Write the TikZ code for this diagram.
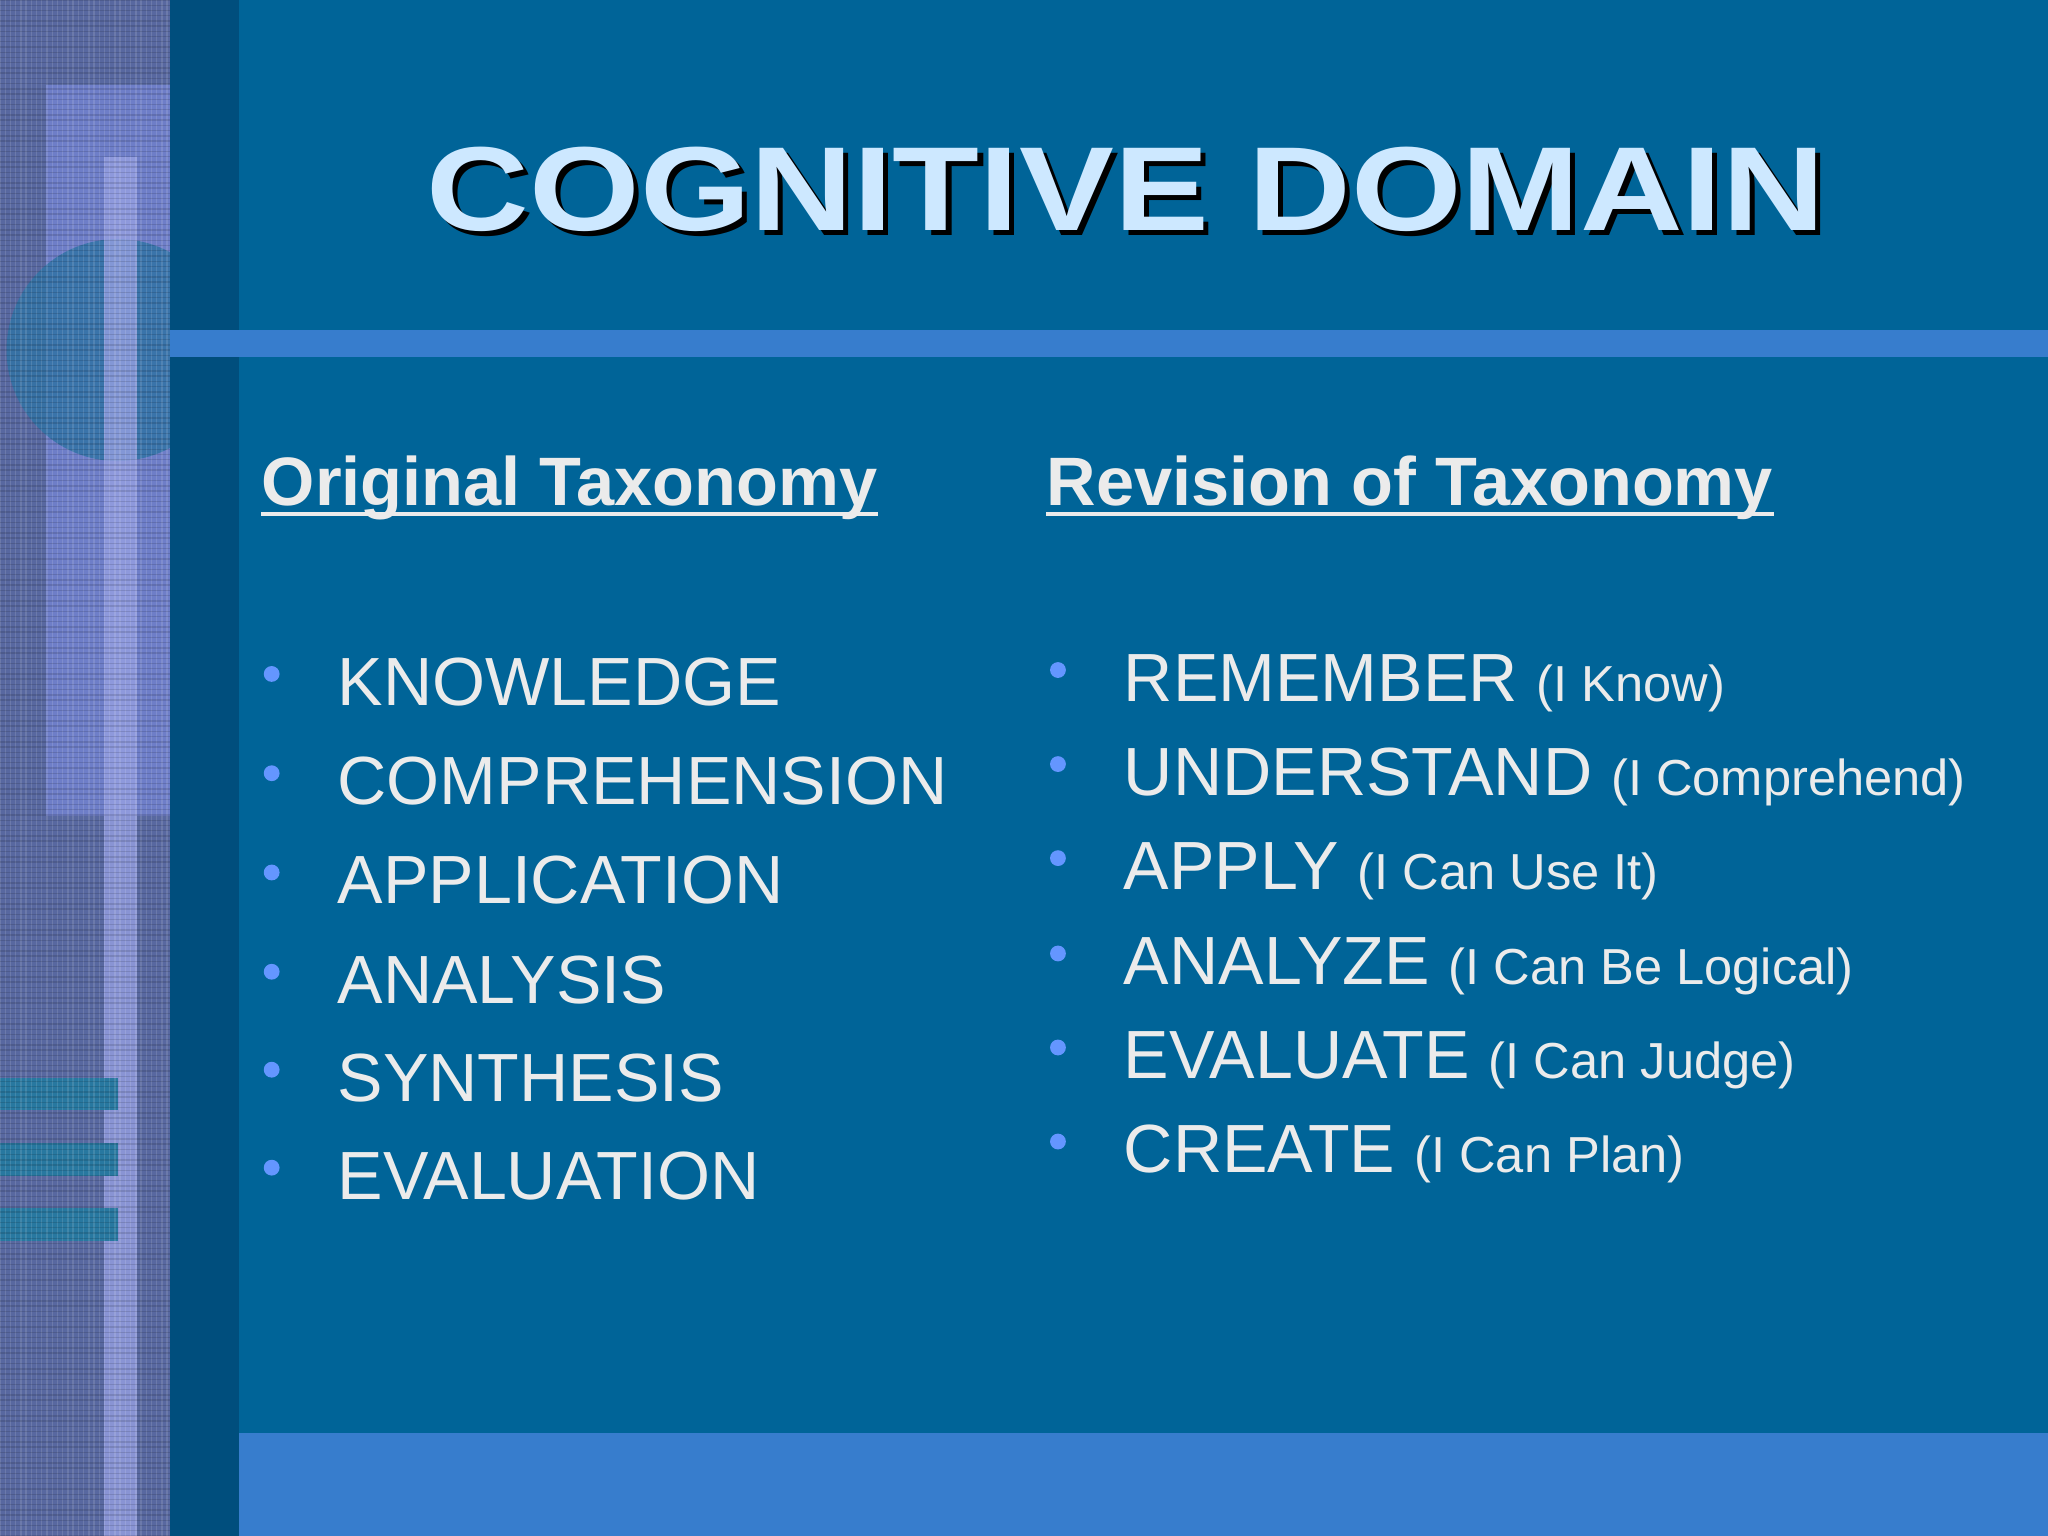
\documentclass[tikz,border=0pt]{standalone}
\usepackage{fontspec}
\setmainfont{Liberation Sans}
\definecolor{bg}{RGB}{0,100,152}
\definecolor{tex}{RGB}{88,104,160}
\definecolor{texl}{RGB}{110,126,200}
\definecolor{texb}{RGB}{150,160,225}
\definecolor{circ}{RGB}{50,115,165}
\definecolor{teal}{RGB}{40,120,160}
\definecolor{dark}{RGB}{0,78,125}
\definecolor{bar}{RGB}{55,125,205}
\definecolor{ttl}{RGB}{205,232,255}
\definecolor{txt}{RGB}{235,235,235}
\definecolor{dot}{RGB}{100,150,255}
\tikzset{
 item/.style={anchor=base west,text=txt,inner sep=0pt,font=\fontsize{19.4}{22}\selectfont},
 head/.style={anchor=base west,text=txt,inner sep=0pt,font=\bfseries\fontsize{19.5}{22}\selectfont},
 bul/.style={circle,fill=dot,inner sep=0pt,minimum size=4.5pt},
 ttlfont/.style={font=\bfseries\fontsize{34}{38}\selectfont}
}
\begin{document}
\begin{tikzpicture}[x=0.01306cm,y=-0.01306cm]
\useasboundingbox (0,0) rectangle (1568,1176);
\fill[bg] (0,0) rectangle (1568,1176);
% textured strip
\fill[tex] (0,0) rectangle (130,1176);
\fill[texl] (35,65) rectangle (130,625);
\fill[circ,opacity=0.85] (90,268) circle (85);
\fill[texb,opacity=0.8] (80,120) rectangle (105,1176);
\foreach \y in {825,875,925}{\fill[teal] (0,\y) rectangle (90,\y+25);}
\foreach \x in {0,4,...,130}{\draw[white,opacity=0.12,line width=0.4pt] (\x,0) -- (\x,1176);}
\foreach \y in {0,4,...,1176}{\draw[black,opacity=0.12,line width=0.4pt] (0,\y) -- (130,\y);}
% dark strip
\fill[dark] (130,0) rectangle (183,1176);
% bars
\fill[bar] (130,253) rectangle (1568,273);
\fill[bar] (183,1097) rectangle (1568,1176);
% title
\node[text=black,ttlfont] at (866,149) {\scalebox{1.19}[1]{COGNITIVE DOMAIN}};
\node (title) [text=ttl,ttlfont] at (862,145) {\scalebox{1.19}[1]{COGNITIVE DOMAIN}};
% headings
\node (h1) [head] at (200,387) {Original Taxonomy};
\node (h2) [head] at (801,387) {Revision of Taxonomy};
\draw[txt,line width=1.2pt] ([yshift=-2.5pt]h1.base west) -- ([yshift=-2.5pt]h1.base east);
\draw[txt,line width=1.2pt] ([yshift=-2.5pt]h2.base west) -- ([yshift=-2.5pt]h2.base east);
% left list
\foreach \t/\y [count=\i] in {KNOWLEDGE/540,COMPREHENSION/616,APPLICATION/692,ANALYSIS/768,SYNTHESIS/843,EVALUATION/918}{
 \node (lb\i) [bul] at (208,\y-24) {};
 \node (l\i) [item] at (258,\y) {\t};
}
% right list
\foreach \t/\s/\y [count=\i] in {REMEMBER/{(I Know)}/537,UNDERSTAND/{(I Comprehend)}/609,APPLY/{(I Can Use It)}/681,ANALYZE/{(I Can Be Logical)}/754,EVALUATE/{(I Can Judge)}/826,CREATE/{(I Can Plan)}/898}{
 \node (rb\i) [bul] at (810,\y-24) {};
 \node (r\i) [item] at (860,\y) {\t\ {\fontsize{14.4}{16}\selectfont\s}};
}
\end{tikzpicture}
\end{document}
